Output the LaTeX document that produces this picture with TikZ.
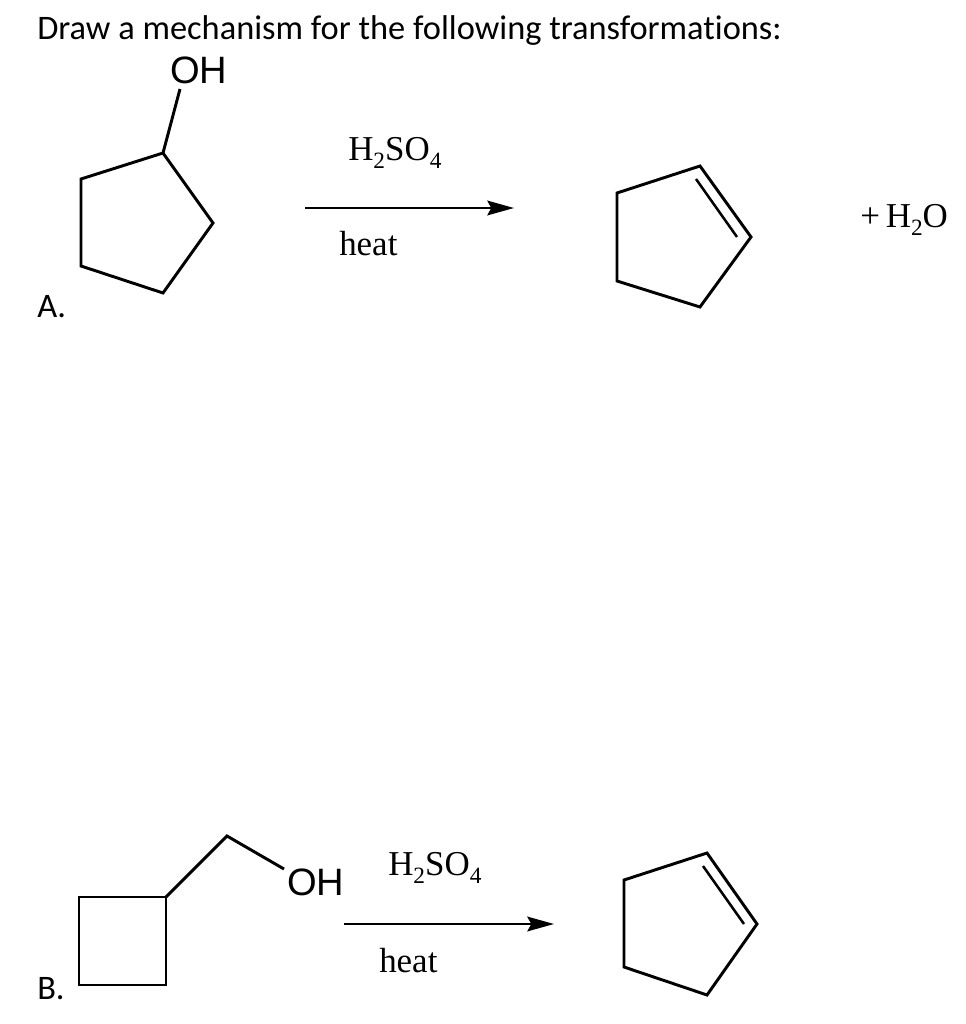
\documentclass[tikz,border=0pt]{standalone}
\usepackage{fontspec}
\setmainfont{Liberation Serif}
\newfontfamily\titlefont[Ligatures=NoCommon]{Carlito}
\newfontfamily\chemfont{Liberation Sans}
\usetikzlibrary{arrows.meta}
\newcommand{\subdigit}[1]{\raisebox{-6pt}{\fontsize{17.5}{18}\selectfont #1}}
\tikzset{
  x=0.75pt,y=-0.75pt,
  bond/.style={line width=2.2pt,line join=miter,black},
  innerbond/.style={line width=1.9pt,black},
  rxn/.style={line width=1.9pt,black,-{Stealth[length=20pt,width=11pt,inset=3pt]}},
  titletext/.style={anchor=base west,inner sep=0pt,font=\titlefont\fontsize{25.8}{30}\selectfont},
  atomtext/.style={anchor=base west,inner sep=0pt,font=\chemfont\fontsize{28.6}{32}\selectfont},
  rxntext/.style={anchor=base west,inner sep=0pt,font=\fontsize{26.2}{30}\selectfont},
}
\begin{document}
\begin{tikzpicture}
\useasboundingbox (0,0) rectangle (966,1024);
% text
\node[titletext] (title) at (37,40) {Draw a mechanism for the following transformations:};
\node[titletext] (labelA) at (37,317) {A.};
\node[titletext] (labelB) at (37,999) {B.};
\node[atomtext] (ohA) at (170,84) {OH};
\node[atomtext] (ohB) at (287,895) {OH};
\node[rxntext] (acidA) at (348,160) {H\subdigit{2}SO\subdigit{4}};
\node[rxntext] (heatA) at (339,255) {heat};
\node[rxntext] (acidB) at (388,875) {H\subdigit{2}SO\subdigit{4}};
\node[rxntext] (heatB) at (379,972) {heat};
\node[rxntext] (water) at (860,227) {+\,H\subdigit{2}O};
% atoms, A reactant
\coordinate (a1) at (163,153);
\coordinate (a2) at (213,223);
\coordinate (a3) at (163,293);
\coordinate (a4) at (81,266);
\coordinate (a5) at (81,179);
\coordinate (aO) at (180,89);
\draw[bond] (a1) -- (a2) -- (a3) -- (a4) -- (a5) -- cycle;
\draw[bond] (a1) -- (aO);
% A product
\coordinate (p1) at (700,166);
\coordinate (p2) at (751,237);
\coordinate (p3) at (700,307);
\coordinate (p4) at (617,281);
\coordinate (p5) at (617,193);
\coordinate (p6) at (696,179);
\coordinate (p7) at (737,237);
\draw[bond] (p1) -- (p2) -- (p3) -- (p4) -- (p5) -- cycle;
\draw[innerbond] (p6) -- (p7);
% A arrow
\coordinate (arA1) at (305,208);
\coordinate (arA2) at (514,208);
\draw[rxn] (arA1) -- (arA2);
% B reactant
\coordinate (b1) at (79,897);
\coordinate (b2) at (166,897);
\coordinate (b3) at (166,985);
\coordinate (b4) at (79,985);
\coordinate (b5) at (227,836);
\coordinate (b6) at (284,869);
\draw[bond] (b1) -- (b2) -- (b3) -- (b4) -- cycle;
\draw[bond] (b2) -- (b5) -- (b6);
% B product
\coordinate (q1) at (707,853);
\coordinate (q2) at (757,924);
\coordinate (q3) at (707,995);
\coordinate (q4) at (624,967);
\coordinate (q5) at (624,880);
\coordinate (q6) at (703,866);
\coordinate (q7) at (744,924);
\draw[bond] (q1) -- (q2) -- (q3) -- (q4) -- (q5) -- cycle;
\draw[innerbond] (q6) -- (q7);
% B arrow
\coordinate (arB1) at (344,924);
\coordinate (arB2) at (554,924);
\draw[rxn] (arB1) -- (arB2);
\end{tikzpicture}
\end{document}
